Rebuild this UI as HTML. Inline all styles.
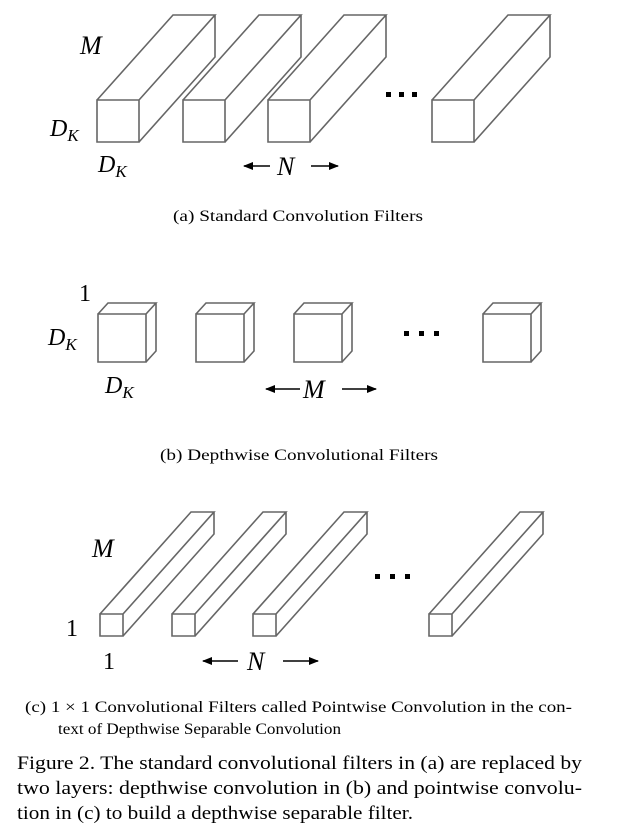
<!DOCTYPE html>
<html><head><meta charset="utf-8"><style>
html,body{margin:0;padding:0;background:#fff;}
svg{display:block;}
text{font-family:"Liberation Serif",serif;fill:#000;}
.i{font-style:italic;}
</style></head><body>
<svg width="620" height="828" viewBox="0 0 620 828" xmlns="http://www.w3.org/2000/svg">
<defs>
<marker id="ah" markerWidth="10" markerHeight="8" refX="9" refY="4" orient="auto" markerUnits="userSpaceOnUse">
<path d="M0,0 L10,4 L0,8 Z" fill="#000"/>
</marker>
</defs>
<g fill="none" stroke="#666" stroke-width="1.6" stroke-linejoin="miter">
<path d="M97,100 h42 v42 h-42 Z M97,100 l76,-85 h42 l-76,85 M139,142 l76,-85 v-42"/>
<path d="M183,100 h42 v42 h-42 Z M183,100 l76,-85 h42 l-76,85 M225,142 l76,-85 v-42"/>
<path d="M268,100 h42 v42 h-42 Z M268,100 l76,-85 h42 l-76,85 M310,142 l76,-85 v-42"/>
<path d="M432,100 h42 v42 h-42 Z M432,100 l76,-85 h42 l-76,85 M474,142 l76,-85 v-42"/>
<path d="M98,314 h48 v48 h-48 Z M98,314 l10,-11 h48 l-10,11 M146,362 l10,-11 v-48"/>
<path d="M196,314 h48 v48 h-48 Z M196,314 l10,-11 h48 l-10,11 M244,362 l10,-11 v-48"/>
<path d="M294,314 h48 v48 h-48 Z M294,314 l10,-11 h48 l-10,11 M342,362 l10,-11 v-48"/>
<path d="M483,314 h48 v48 h-48 Z M483,314 l10,-11 h48 l-10,11 M531,362 l10,-11 v-48"/>
<path d="M100,614 h23 v22 h-23 Z M100,614 l91,-102 h23 l-91,102 M123,636 l91,-102 v-22"/>
<path d="M172,614 h23 v22 h-23 Z M172,614 l91,-102 h23 l-91,102 M195,636 l91,-102 v-22"/>
<path d="M253,614 h23 v22 h-23 Z M253,614 l91,-102 h23 l-91,102 M276,636 l91,-102 v-22"/>
<path d="M429,614 h23 v22 h-23 Z M429,614 l91,-102 h23 l-91,102 M452,636 l91,-102 v-22"/>
</g>
<g fill="#000">
<rect x="386" y="92" width="5" height="5"/><rect x="399" y="92" width="5" height="5"/><rect x="412" y="92" width="5" height="5"/>
<rect x="404" y="331" width="5" height="5"/><rect x="419" y="331" width="5" height="5"/><rect x="434" y="331" width="5" height="5"/>
<rect x="375" y="574" width="5" height="5"/><rect x="390" y="574" width="5" height="5"/><rect x="405" y="574" width="5" height="5"/>
</g>
<g stroke="#000" stroke-width="1.5" marker-end="url(#ah)">
<line x1="270" y1="166" x2="244" y2="166"/><line x1="311" y1="166" x2="338" y2="166"/>
<line x1="300" y1="389" x2="266" y2="389"/><line x1="342" y1="389" x2="376" y2="389"/>
<line x1="238" y1="661" x2="203" y2="661"/><line x1="283" y1="661" x2="318" y2="661"/>
</g>
<text class="i" x="80" y="54" font-size="26">M</text>
<text class="i" x="50" y="136" font-size="24">D<tspan font-size="17" dy="5">K</tspan></text>
<text class="i" x="98" y="172" font-size="24">D<tspan font-size="17" dy="5">K</tspan></text>
<text class="i" x="277" y="175" font-size="26">N</text>
<text x="173" y="221" font-size="16" textLength="250" lengthAdjust="spacingAndGlyphs">(a)  Standard Convolution Filters</text>
<text x="79" y="301" font-size="24">1</text>
<text class="i" x="48" y="345" font-size="24">D<tspan font-size="17" dy="5">K</tspan></text>
<text class="i" x="105" y="393" font-size="24">D<tspan font-size="17" dy="5">K</tspan></text>
<text class="i" x="303" y="398" font-size="26">M</text>
<text x="160" y="460" font-size="16" textLength="278" lengthAdjust="spacingAndGlyphs">(b)  Depthwise Convolutional Filters</text>
<text class="i" x="92" y="557" font-size="26">M</text>
<text x="66" y="636" font-size="24">1</text>
<text x="103" y="669" font-size="24">1</text>
<text class="i" x="247" y="670" font-size="26">N</text>
<text x="25" y="712" font-size="16" textLength="547" lengthAdjust="spacingAndGlyphs">(c)  1 × 1 Convolutional Filters called Pointwise Convolution in the con-</text>
<text x="58" y="734" font-size="16" textLength="283" lengthAdjust="spacingAndGlyphs">text of Depthwise Separable Convolution</text>
<text x="17" y="769" font-size="19" textLength="565" lengthAdjust="spacingAndGlyphs">Figure 2. The standard convolutional filters in (a) are replaced by</text>
<text x="17" y="794" font-size="19" textLength="565" lengthAdjust="spacingAndGlyphs">two layers: depthwise convolution in (b) and pointwise convolu-</text>
<text x="17" y="819" font-size="19" textLength="396" lengthAdjust="spacingAndGlyphs">tion in (c) to build a depthwise separable filter.</text>
</svg>
</body></html>
